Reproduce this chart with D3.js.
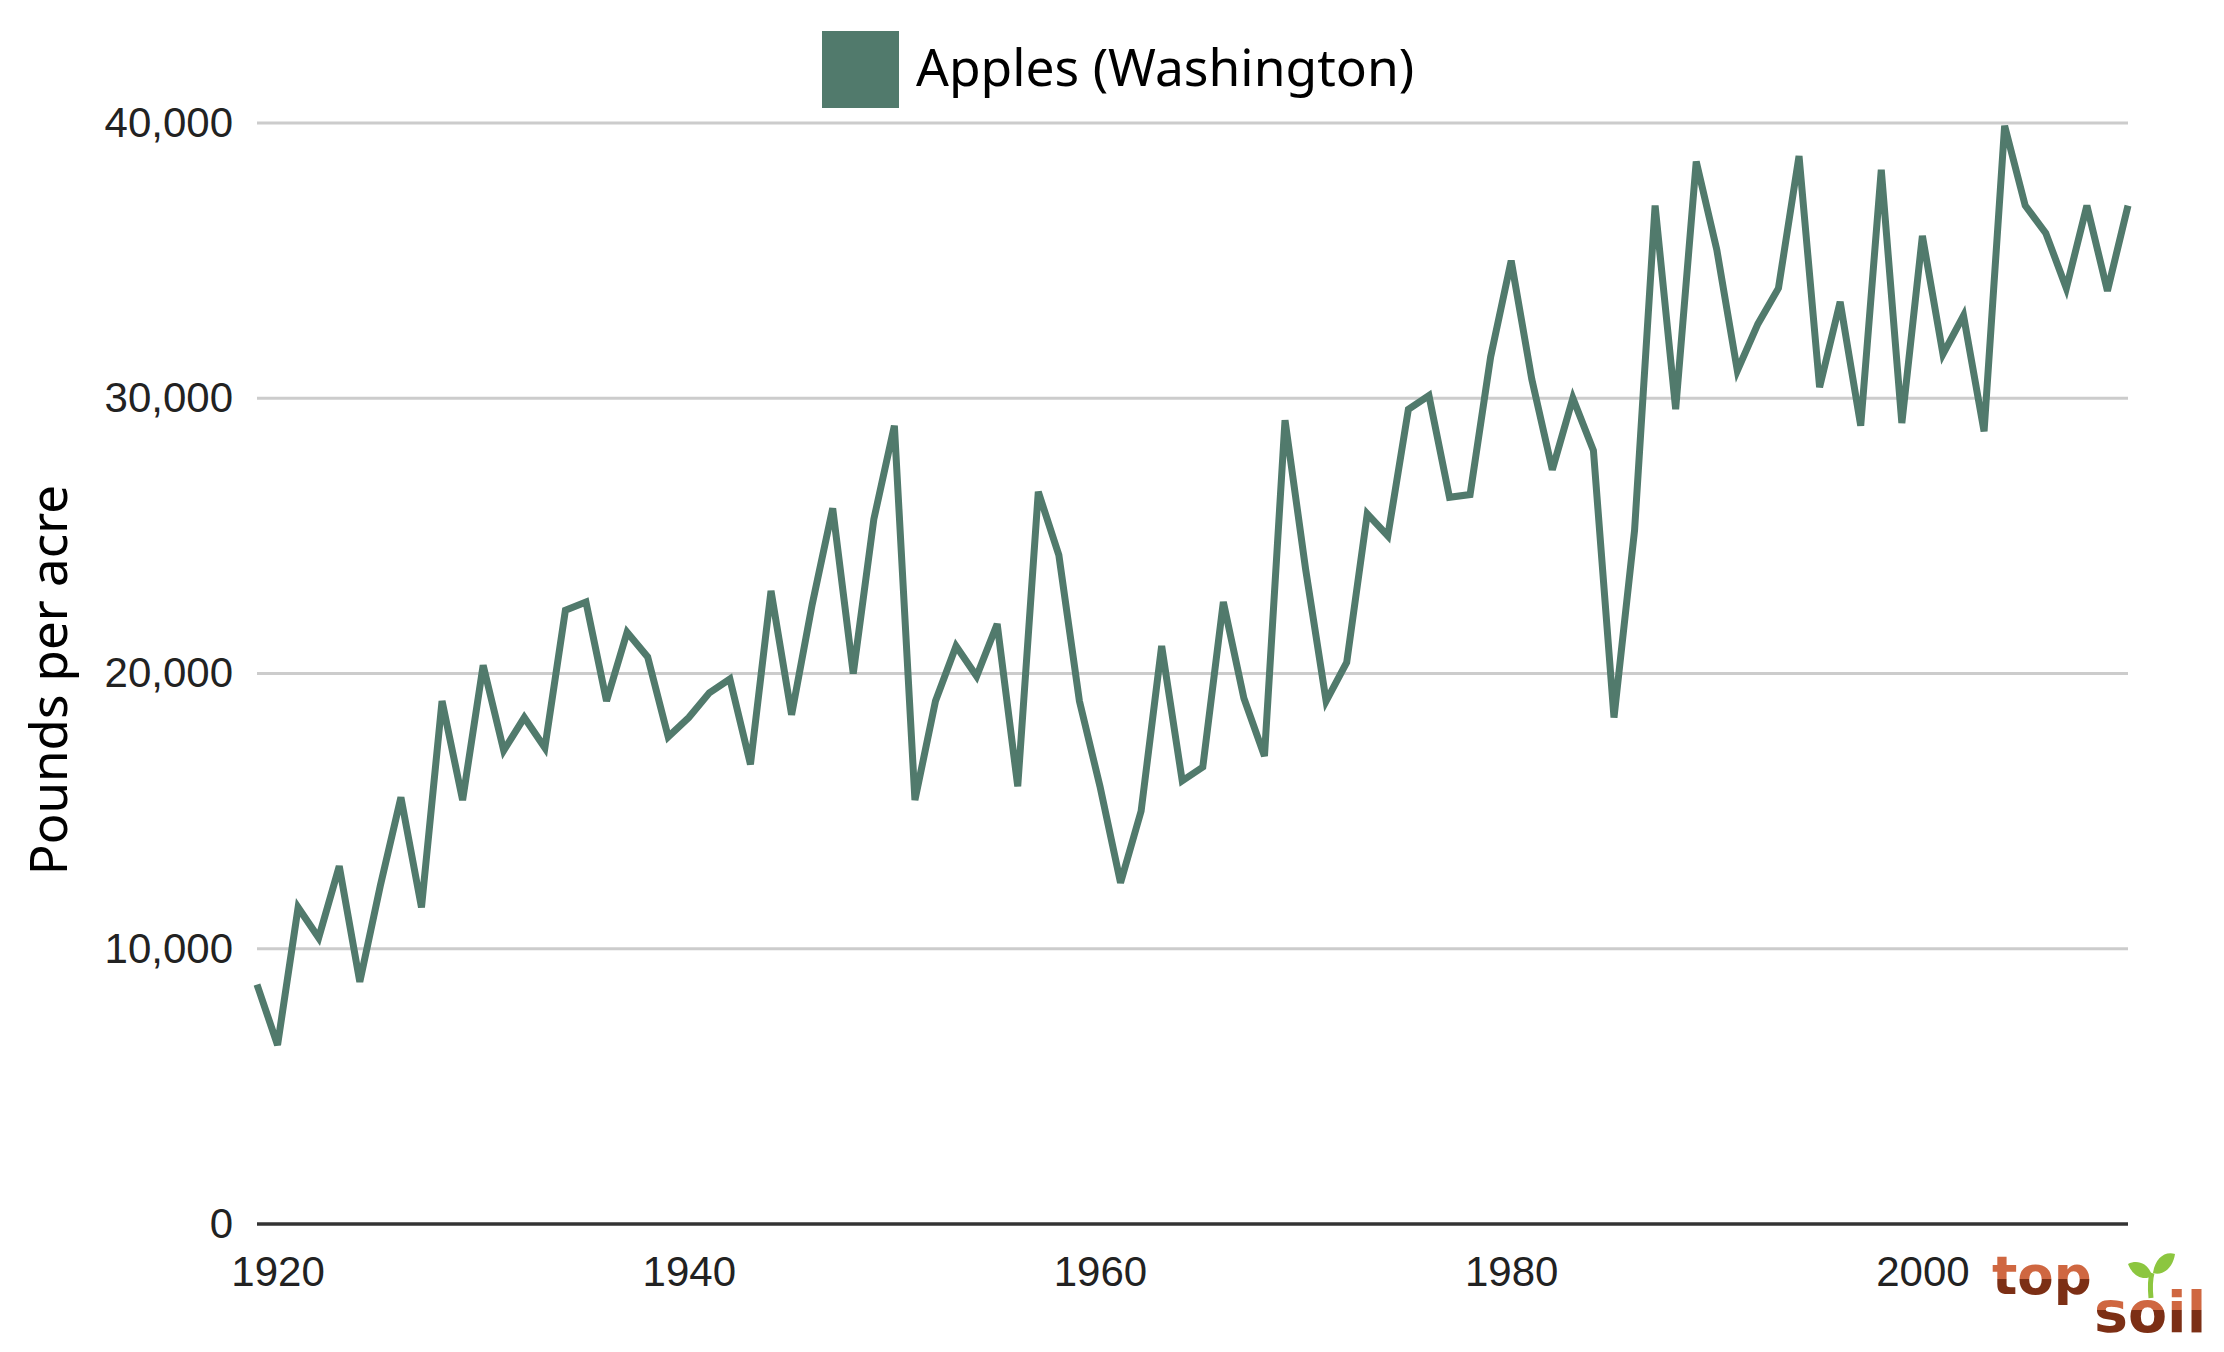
<!DOCTYPE html>
<html>
<head>
<meta charset="utf-8">
<script src="https://cdn.jsdelivr.net/npm/d3@7"></script>
<style>
  body { margin: 0; background: #fff; }
  svg { display: block; }
</style>
</head>
<body>
<div id="chart"></div>
<script>
// Washington apple yield, pounds per acre
const years = [
  1919, 1920, 1921, 1922, 1923, 1924, 1925, 1926, 1927, 1928,
  1929, 1930, 1931, 1932, 1933, 1934, 1935, 1936, 1937, 1938,
  1939, 1940, 1941, 1942, 1943, 1944, 1945, 1946, 1947, 1948,
  1949, 1950, 1951, 1952, 1953, 1954, 1955, 1956, 1957, 1958,
  1959, 1960, 1961, 1962, 1963, 1964, 1965, 1966, 1967, 1968,
  1969, 1970, 1971, 1972, 1973, 1974, 1975, 1976, 1977, 1978,
  1979, 1980, 1981, 1982, 1983, 1984, 1985, 1986, 1987, 1988,
  1989, 1990, 1991, 1992, 1993, 1994, 1995, 1996, 1997, 1998,
  1999, 2000, 2001, 2002, 2003, 2004, 2005, 2006, 2007, 2008,
  2009, 2010
];
const yields = [
  8700, 6500, 11500, 10400, 13000, 8800, 12300, 15500, 11500, 19000,
  15400, 20300, 17200, 18400, 17300, 22300, 22600, 19000, 21500, 20600,
  17700, 18400, 19300, 19800, 16700, 23000, 18500, 22500, 26000, 20000,
  25600, 29000, 15400, 19000, 21000, 19900, 21800, 15900, 26600, 24300,
  19000, 15900, 12400, 15000, 21000, 16100, 16600, 22600, 19100, 17000,
  29200, 23800, 19000, 20400, 25800, 25000, 29600, 30100, 26400, 26500,
  31500, 35000, 30700, 27400, 30000, 28100, 18400, 25200, 37000, 29600,
  38600, 35400, 31000, 32700, 34000, 38800, 30400, 33500, 29000, 38300,
  29100, 35900, 31600, 33000, 28800, 39900, 37000, 36000, 34000, 37000,
  33900, 37000
];
const xTicks = [1920, 1940, 1960, 1980, 2000];
const yTicks = [0, 10000, 20000, 30000, 40000];
const seriesName = 'Apples (Washington)';
const yTitle = 'Pounds per acre';

const W = 2224, H = 1352;
const margin = { top: 123, right: 96, bottom: 128, left: 257 };
const width = W - margin.left - margin.right;
const height = H - margin.top - margin.bottom;
const lineColor = '#517a6c';
const labelFont = '"Liberation Sans", Arial, sans-serif';
const titleFont = '"Noto Sans", sans-serif';

const data = years.map((yr, i) => ({ year: yr, value: yields[i] }));

const svgRoot = d3.select('#chart')
  .append('svg')
  .attr('width', W)
  .attr('height', H);

svgRoot.append('rect').attr('width', W).attr('height', H).attr('fill', '#fff');

const svg = svgRoot.append('g')
  .attr('transform', `translate(${margin.left}, ${margin.top})`);

const x = d3.scaleLinear()
  .domain([1919, 2010])
  .range([0, width]);

const y = d3.scaleLinear()
  .domain([0, 40000])
  .range([height, 0]);

// gridlines
svg.append('g')
  .selectAll('line')
  .data(yTicks.filter((t) => t > 0))
  .join('line')
  .attr('x1', 0)
  .attr('x2', width)
  .attr('y1', (d) => y(d))
  .attr('y2', (d) => y(d))
  .attr('stroke', '#cccccc')
  .attr('stroke-width', 3);

// y axis labels
const yAxis = svg.append('g')
  .call(d3.axisLeft(y).tickValues(yTicks).tickSize(0).tickPadding(24)
    .tickFormat(d3.format(',')));
yAxis.select('.domain').remove();
yAxis.selectAll('text')
  .attr('font-family', labelFont)
  .attr('font-size', 42)
  .attr('fill', '#222');

// x axis
const xAxis = svg.append('g')
  .attr('transform', `translate(0, ${height})`)
  .call(d3.axisBottom(x).tickValues(xTicks).tickSize(0).tickPadding(32)
    .tickFormat(d3.format('d')));
xAxis.select('.domain').remove();
xAxis.selectAll('text')
  .attr('font-family', labelFont)
  .attr('font-size', 42)
  .attr('fill', '#222');

// baseline
svg.append('line')
  .attr('x1', 0)
  .attr('x2', width)
  .attr('y1', y(0))
  .attr('y2', y(0))
  .attr('stroke', '#333')
  .attr('stroke-width', 3.5);

// the series
const line = d3.line()
  .x((d) => x(d.year))
  .y((d) => y(d.value));

svg.append('path')
  .datum(data)
  .attr('fill', 'none')
  .attr('stroke', lineColor)
  .attr('stroke-width', 7)
  .attr('stroke-linejoin', 'miter')
  .attr('d', line);

// y title
svgRoot.append('text')
  .attr('transform', `translate(67, ${margin.top + height * 0.506}) rotate(-90)`)
  .attr('text-anchor', 'middle')
  .attr('font-family', titleFont)
  .attr('font-size', 51)
  .attr('fill', '#000')
  .text(yTitle);

// legend
const legend = svgRoot.append('g');
legend.append('rect')
  .attr('x', 822)
  .attr('y', 31)
  .attr('width', 77)
  .attr('height', 77)
  .attr('fill', lineColor);
legend.append('text')
  .attr('x', 916)
  .attr('y', 67)
  .attr('dy', '0.36em')
  .attr('font-family', titleFont)
  .attr('font-size', 51.5)
  .attr('fill', '#000')
  .text(seriesName);

// topsoil mark
const defs = svgRoot.append('defs');
const grad = (id, y1, y2, split) => {
  const g = defs.append('linearGradient')
    .attr('id', id)
    .attr('gradientUnits', 'userSpaceOnUse')
    .attr('x1', 0).attr('x2', 0).attr('y1', y1).attr('y2', y2);
  g.append('stop').attr('offset', split).attr('stop-color', '#cf6741');
  g.append('stop').attr('offset', split).attr('stop-color', '#7c2f15');
};
grad('gTop', 1245, 1320, 0.45);
grad('gSoil', 1270, 1335, 0.62);

const logo = svgRoot.append('g')
  .attr('font-family', '"DejaVu Sans", sans-serif')
  .attr('font-weight', 'bold');
logo.append('text')
  .attr('x', 1992)
  .attr('y', 1294)
  .attr('font-size', 53)
  .attr('fill', 'url(#gTop)')
  .text('top');
logo.append('text')
  .attr('x', 2094)
  .attr('y', 1332)
  .attr('font-size', 57)
  .attr('fill', 'url(#gSoil)')
  .text('soil');
// sprout
logo.append('path')
  .attr('d', 'M2151,1298 C2150,1288 2150,1280 2152,1273')
  .attr('stroke', '#8cc63f')
  .attr('stroke-width', 5)
  .attr('fill', 'none');
logo.append('path')
  .attr('d', 'M2152,1276 C2149,1264 2138,1259 2128,1264 C2133,1277 2144,1281 2152,1276 Z')
  .attr('fill', '#8cc63f');
logo.append('path')
  .attr('d', 'M2153,1273 C2155,1259 2164,1251 2175,1254 C2173,1268 2163,1276 2153,1273 Z')
  .attr('fill', '#8cc63f');
</script>
</body>
</html>
